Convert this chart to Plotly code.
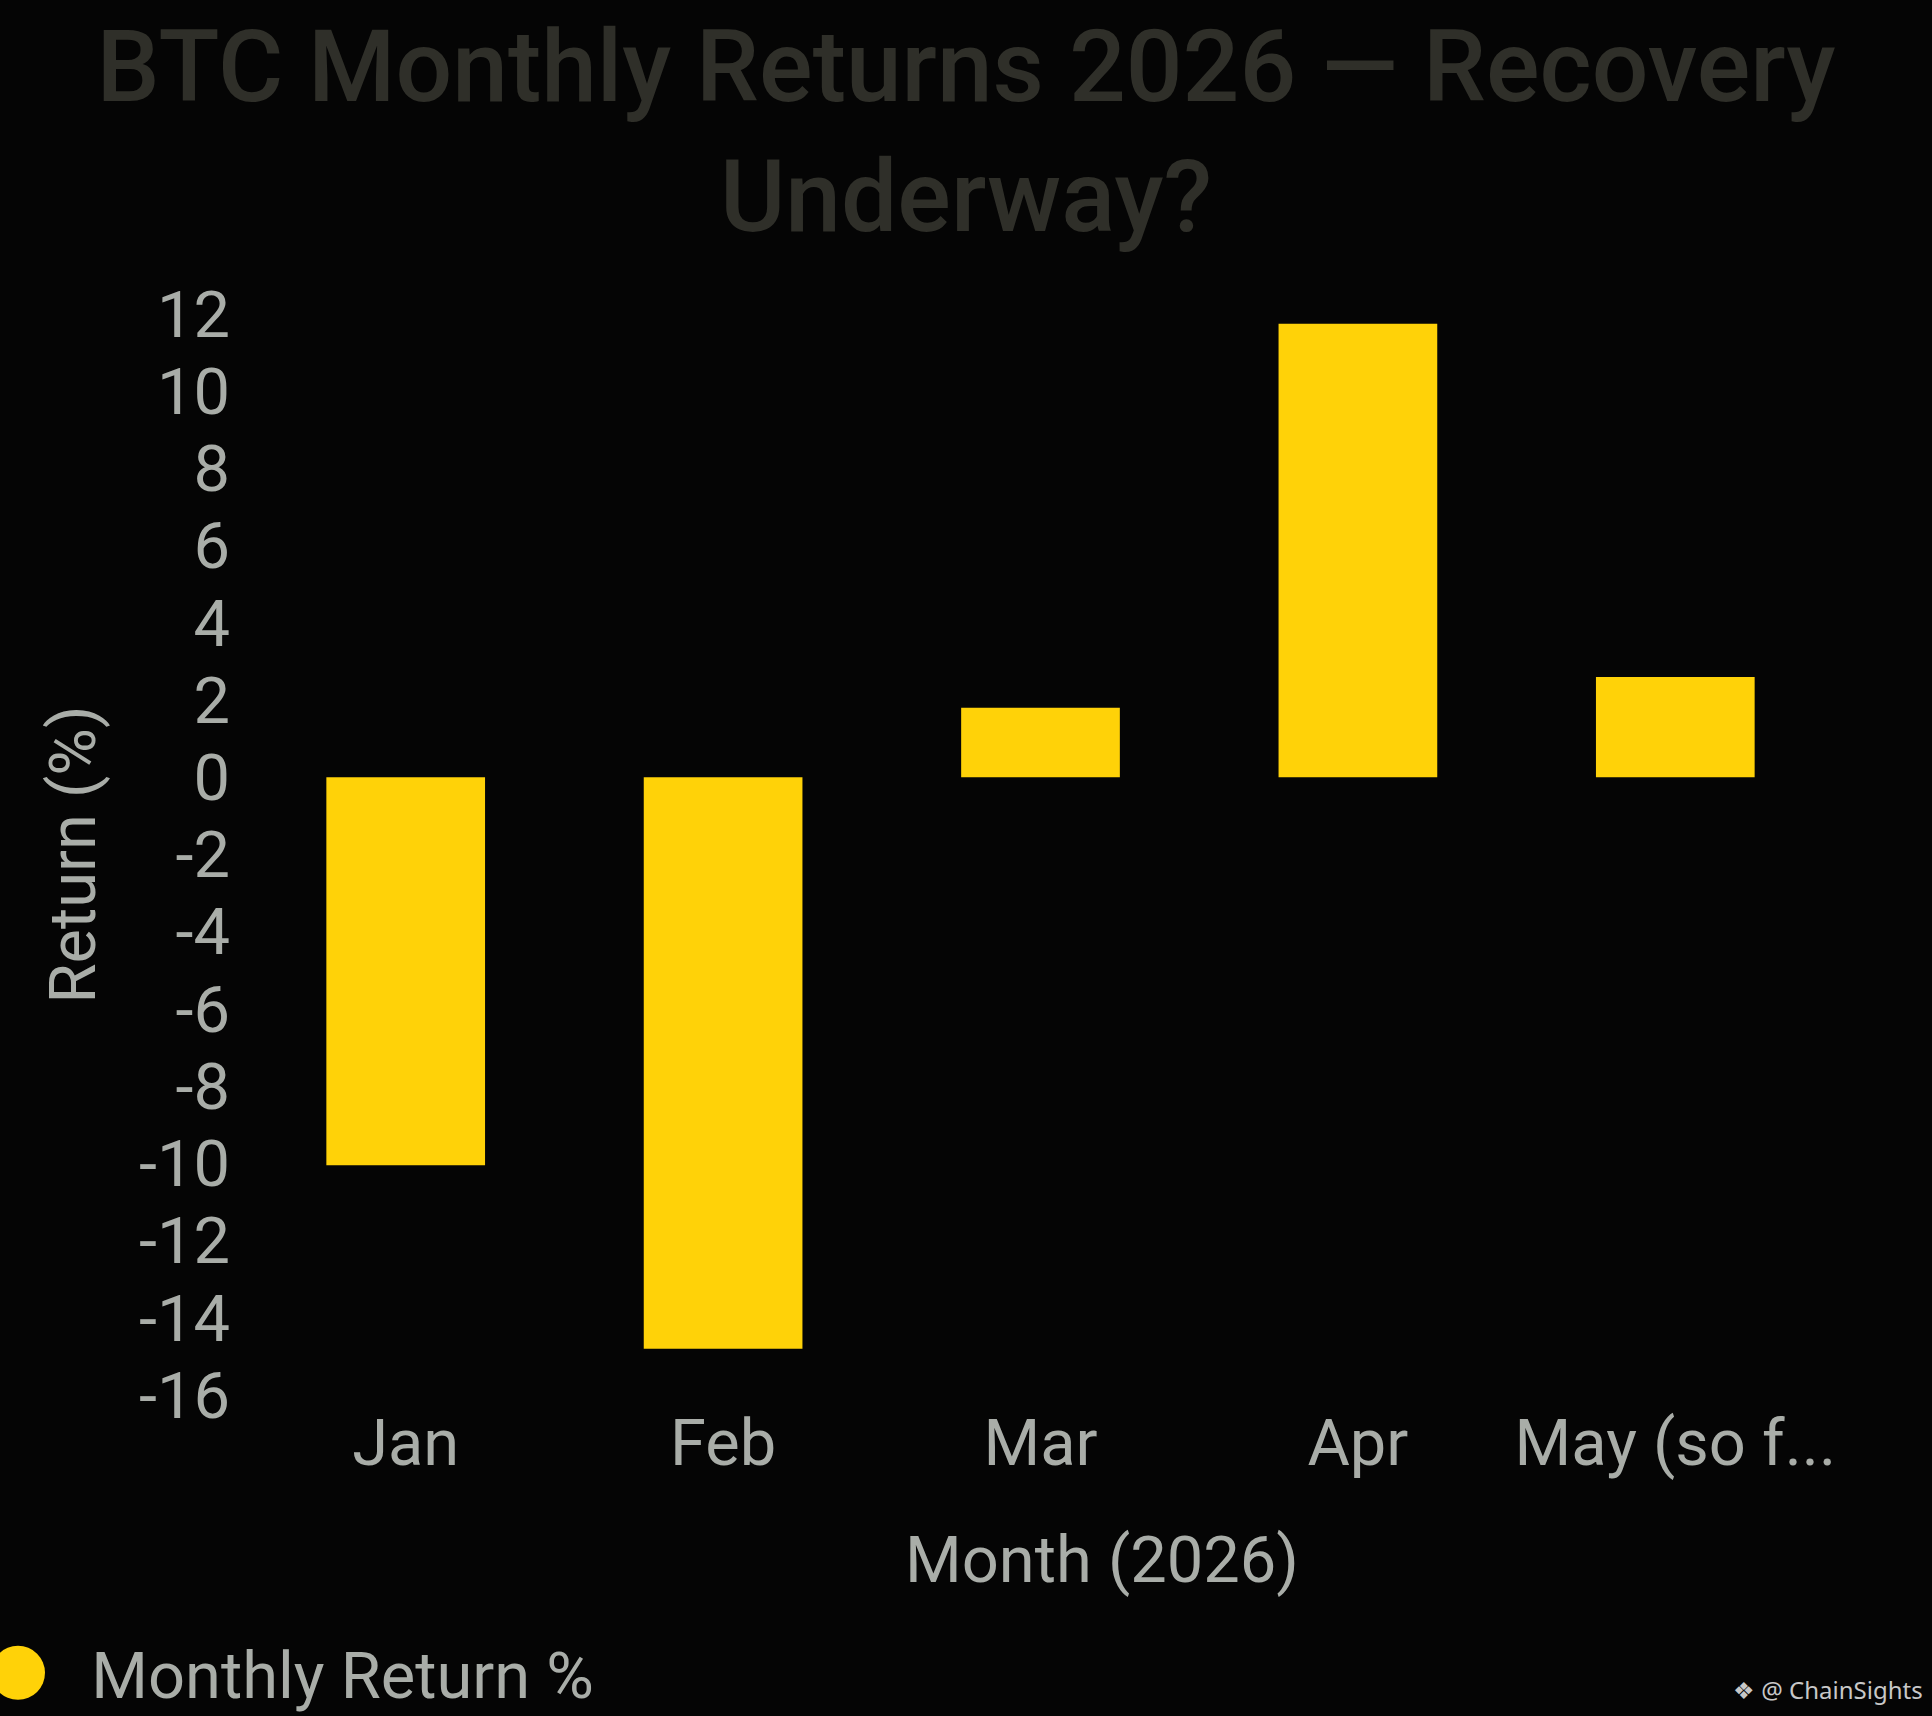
import plotly.graph_objects as go

months = ["Jan", "Feb", "Mar", "Apr", "May (so f..."]
returns = [-10.05, -14.8, 1.8, 11.75, 2.6]
y_ticks = [12, 10, 8, 6, 4, 2, 0, -2, -4, -6, -8, -10, -12, -14, -16]
y_labels = ["12", "10", "8", "6", "4", "2", "0", "-2", "-4", "-6", "-8", "-10", "-12", "-14", "-16"]

bar_color = "#FFD208"
text_color = "#A9ADA8"
bg_color = "#050505"

fig = go.Figure()
fig.add_trace(go.Bar(x=months, y=returns, marker=dict(color=bar_color, line=dict(width=0)), showlegend=False))
# legend text only, plotly caps the legend symbol size so the dot is a shape
fig.add_trace(go.Scatter(x=[None], y=[None], mode="markers", name="Monthly Return %",
                         marker=dict(color="rgba(0,0,0,0)", size=10)))

fig.update_layout(
    width=1932,
    height=1716,
    margin=dict(l=247, r=98, t=314, b=321, autoexpand=False),
    paper_bgcolor=bg_color,
    plot_bgcolor=bg_color,
    font=dict(family="Roboto", size=65, color=text_color),
    bargap=0.5,
    title=dict(
        text="BTC Monthly Returns 2026 — Recovery<br>Underway?",
        x=0.5,
        xanchor="center",
        y=0.941,
        yanchor="top",
        font=dict(family="Roboto", size=100, color="#2F2F29", weight=500),
    ),
    xaxis=dict(showgrid=False, zeroline=False, showline=False, ticks="", ticklabelstandoff=4,
               tickfont=dict(size=65), type="category"),
    yaxis=dict(range=[-16, 12], tickvals=y_ticks, ticktext=y_labels, showgrid=False, zeroline=False,
               showline=False, ticks="", ticklabelstandoff=16, tickfont=dict(size=65),
               title=dict(text="Return (%)", standoff=22, font=dict(size=65))),
    legend=dict(x=-0.1555, y=-0.257, xanchor="left", yanchor="middle", itemwidth=81,
                font=dict(size=65, color=text_color), bgcolor="rgba(0,0,0,0)"),
    shapes=[dict(type="circle", xref="paper", yref="paper", xsizemode="pixel", ysizemode="pixel",
                 xanchor=-0.1443, yanchor=-0.257, x0=-27, x1=27, y0=-27, y1=27,
                 fillcolor=bar_color, line=dict(width=0))],
    annotations=[
        dict(text="Month (2026)", xref="paper", yref="paper", x=0.539, y=-0.153, showarrow=False,
             xanchor="center", yanchor="middle", font=dict(size=65, color=text_color)),
        dict(text="❖ @ ChainSights", xref="paper", yref="paper", x=1.0575, y=-0.272, showarrow=False,
             xanchor="right", yanchor="middle", font=dict(family="Noto Sans", size=24, color="#C8C8C8")),
    ],
)

fig.write_html("out.html", config=dict(displayModeBar=False), post_script="document.body.style.margin='0';")
